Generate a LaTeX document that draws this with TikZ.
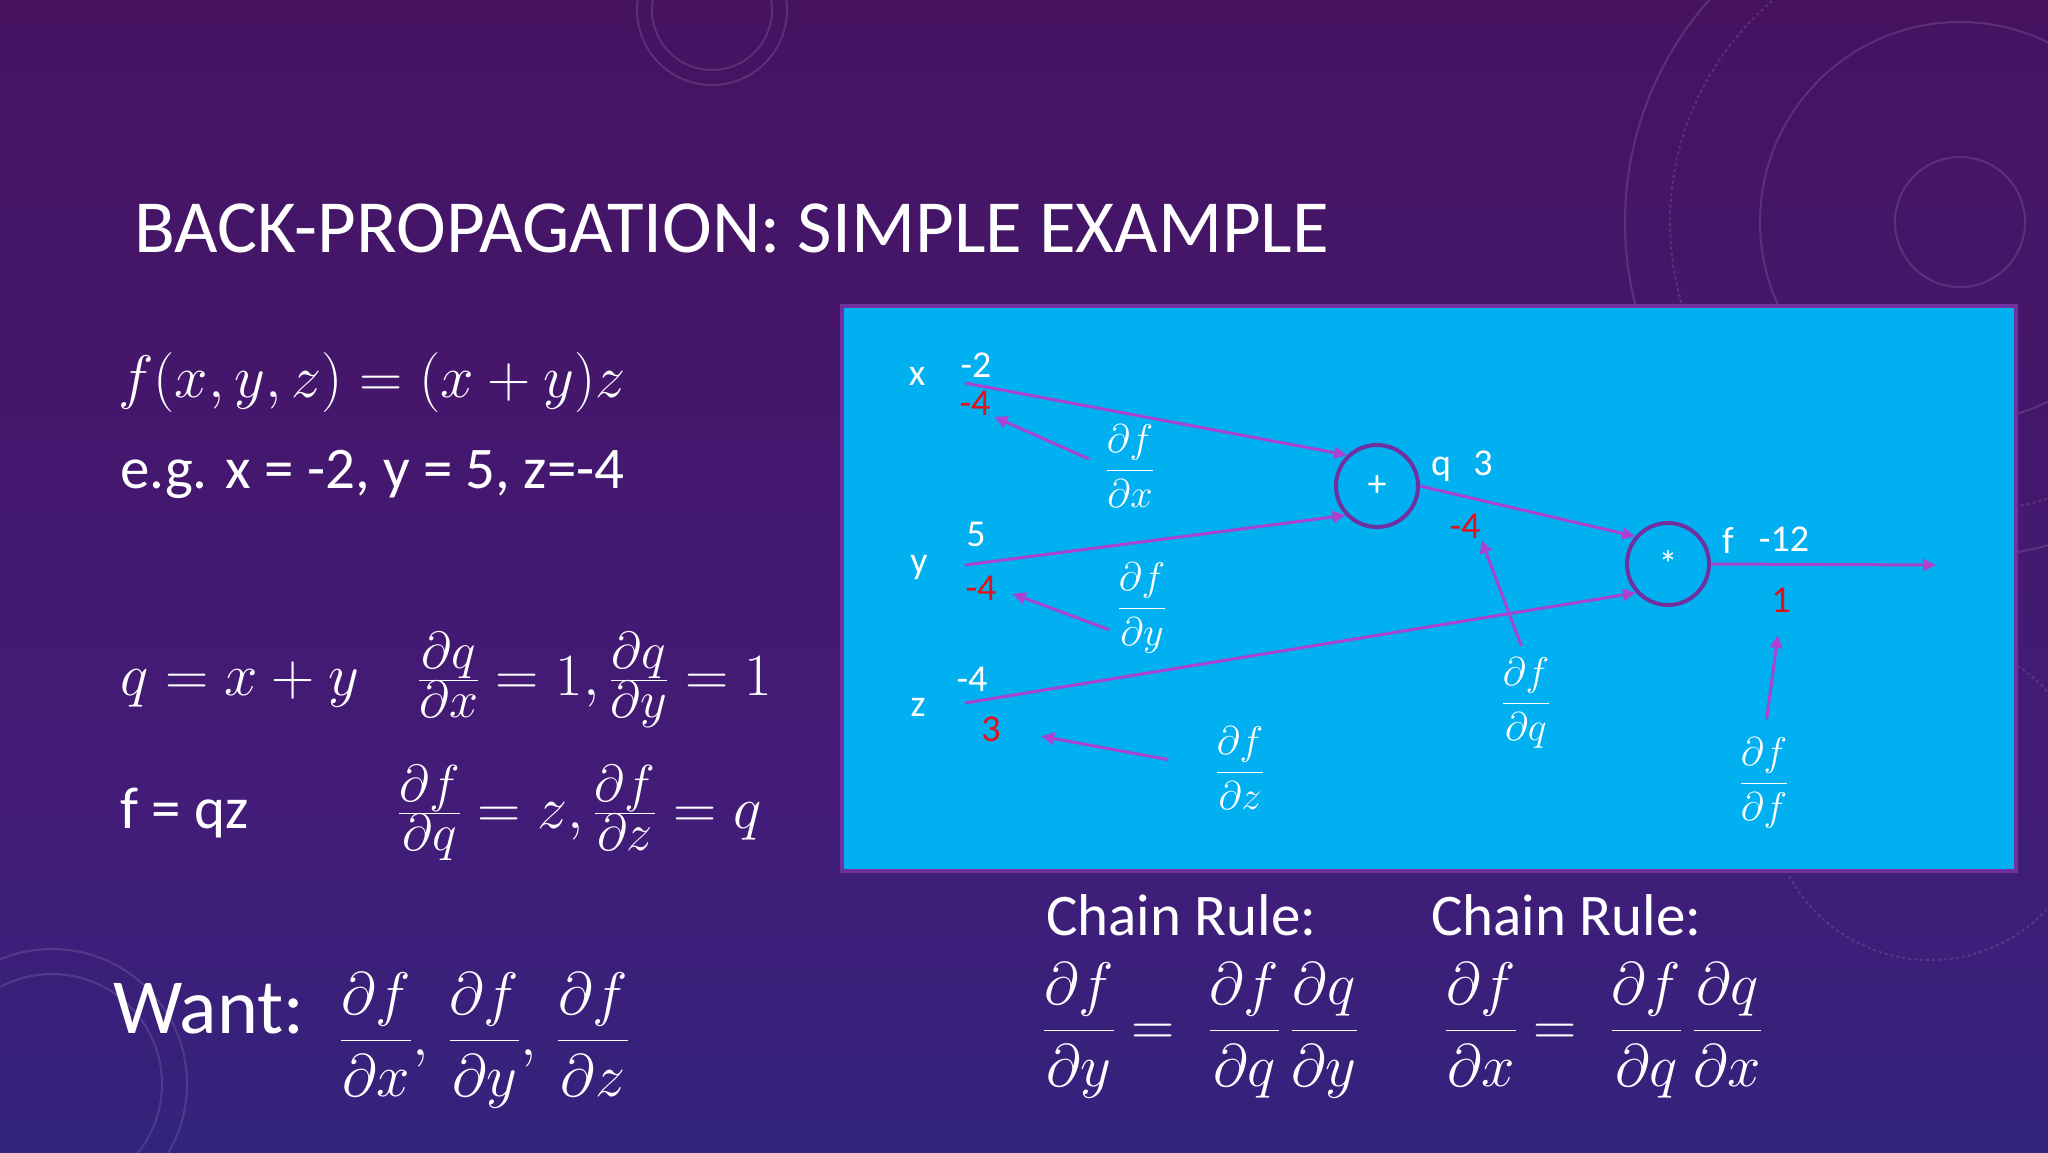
\RequirePackage{fix-cm}
\documentclass[tikz,border=0pt]{standalone}
\usepackage{amsmath}
\usepackage[no-math]{fontspec}
\setmainfont{Carlito}
\usepackage{tikz}
\usetikzlibrary{arrows.meta}
\DeclareMathSizes{60}{60}{52}{40}
\definecolor{fondoarriba}{RGB}{74,12,80}
\definecolor{fondomedio}{RGB}{66,28,120}
\definecolor{fondoabajo}{RGB}{26,48,132}
\definecolor{celeste}{RGB}{0,176,240}
\definecolor{morado}{RGB}{112,48,160}
\definecolor{violeta}{RGB}{170,68,208}
\definecolor{rojo}{RGB}{230,16,24}
\newcommand{\tam}[1]{\fontsize{#1}{#1}\selectfont}
\pgfdeclareverticalshading{fondo}{100bp}{color(0bp)=(fondoabajo); color(40bp)=(fondomedio); color(100bp)=(fondoarriba)}
\tikzset{
    texto/.style={anchor=base west,inner sep=0pt,text=white},
    valor/.style={anchor=base,inner sep=0pt,text=white,font=\tam{38}},
    gradval/.style={valor,text=rojo},
    derivada/.style={anchor=base,inner sep=0pt,text=white,font=\tam{40}},
    operacion/.style={circle,draw=morado,line width=4pt,minimum size=82pt,inner sep=0pt,text=white,font=\tam{38}},
    adorno/.style={draw=white,opacity=0.12,line width=2pt},
    flecha/.style={draw=violeta,line width=3pt,-{Triangle[length=13pt,width=12pt]}},
}

\begin{document}
\begin{tikzpicture}[x=1pt,y=-1pt]
    \useasboundingbox (0,0) rectangle (2048,1152);
    \shade [shading=fondo] (0,0) rectangle (2048,1152);
    \draw [adorno] (712,10) circle [radius=75pt];
    \draw [adorno] (712,10) circle [radius=60pt];
    \draw [adorno] (1960,222) circle [radius=65pt];
    \draw [adorno] (1960,222) circle [radius=200pt];
    \draw [adorno,dashed] (1960,222) circle [radius=290pt];
    \draw [adorno] (1960,222) circle [radius=335pt];
    \draw [adorno] (52,1084) circle [radius=110pt];
    \draw [adorno] (52,1084) circle [radius=135pt];
    \draw [adorno,dashed] (1930,800) circle [radius=160pt];
    \draw [fill=celeste,draw=morado,line width=4pt] (842,306) rectangle (2016,871);

    \node [texto,font=\tam{75}] (titulo) at (134,252) {BACK-PROPAGATION: SIMPLE EXAMPLE};
    \node [texto,font=\tam{60}] (funcion) at (118,397) {$f(x,y,z) = (x+y)z$};
    \node [texto,font=\tam{59}] (ejemplo) at (120,488) {e.g. x = -2, y = 5, z=-4};
    \node [texto,font=\tam{60}] (qdef) at (120,695) {$q = x + y$};
    \node [texto,font=\tam{60}] (qder) at (418,695) {$\frac{\partial q}{\partial x} = 1, \frac{\partial q}{\partial y} = 1$};
    \node [texto,font=\tam{59}] (fdef) at (120,828) {f = qz};
    \node [texto,font=\tam{60}] (fder) at (398,828) {$\frac{\partial f}{\partial q} = z, \frac{\partial f}{\partial z} = q$};
    \node [texto,font=\tam{78}] (quiero) at (113,1033) {Want:};
    \node [texto,font=\tam{60}] (quierofr) at (340,1055) {$\dfrac{\partial f}{\partial x},\, \dfrac{\partial f}{\partial y},\, \dfrac{\partial f}{\partial z}$};
    \node [texto,font=\tam{59}] (regla1) at (1046,935) {Chain Rule:};
    \node [texto,font=\tam{60}] (regla1fr) at (1043,1045) {$\dfrac{\partial f}{\partial y} = \;\dfrac{\partial f}{\partial q}\,\dfrac{\partial q}{\partial y}$};
    \node [texto,font=\tam{59}] (regla2) at (1431,935) {Chain Rule:};
    \node [texto,font=\tam{60}] (regla2fr) at (1445,1045) {$\dfrac{\partial f}{\partial x} = \;\dfrac{\partial f}{\partial q}\,\dfrac{\partial q}{\partial x}$};

    \node [valor] (xn) at (917,385) {x};
    \node [valor] (xv) at (976,377) {-2};
    \node [gradval] (xg) at (975,415) {-4};
    \node [valor] (yn) at (919,573) {y};
    \node [valor] (yv) at (976,546) {5};
    \node [gradval] (yg) at (981,600) {-4};
    \node [valor] (zn) at (918,716) {z};
    \node [valor] (zv) at (972,691) {-4};
    \node [gradval] (zg) at (991,741) {3};
    \node [operacion] (suma) at (1377,486) {+};
    \node [valor] (qn) at (1441,475) {q};
    \node [valor] (qv) at (1483,475) {3};
    \node [gradval] (qg) at (1465,538) {-4};
    \node [operacion] (producto) at (1668,564) {*};
    \node [valor] (fn) at (1728,553) {f};
    \node [valor] (fv) at (1784,551) {-12};
    \node [gradval] (fg) at (1781,612) {1};
    \node [derivada] (dfx) at (1130,480) {$\dfrac{\partial f}{\partial x}$};
    \node [derivada] (dfy) at (1142,618) {$\dfrac{\partial f}{\partial y}$};
    \node [derivada] (dfz) at (1240,782) {$\dfrac{\partial f}{\partial z}$};
    \node [derivada] (dfq) at (1526,713) {$\dfrac{\partial f}{\partial q}$};
    \node [derivada] (dff) at (1764,793) {$\dfrac{\partial f}{\partial f}$};
    \coordinate (xin) at (965,383);
    \coordinate (yin) at (965,565);
    \coordinate (zin) at (965,703);
    \coordinate (salida) at (1936,565);

    \path [flecha] (xin) -- (suma.134);
    \path [flecha] (yin) -- (suma.223);
    \path [flecha] (zin) -- (producto.222);
    \path [flecha] (suma.0) -- (producto.140);
    \path [flecha] (producto.0) -- (salida);
    \path [flecha,shorten <=18pt,shorten >=4pt] (dfx.west) -- (xg.south east);
    \path [flecha,shorten <=9pt,shorten >=17pt] (dfy.225) -- (yg.east);
    \path [flecha,shorten <=48pt,shorten >=41pt] (dfz.west) -- (zg.east);
    \path [flecha,shorten <=13pt,shorten >=2pt] (dfq.north) -- (qg.south east);
    \path [flecha,shorten <=19pt,shorten >=23pt] (dff.north) -- (fg.south);
\end{tikzpicture}
\end{document}
